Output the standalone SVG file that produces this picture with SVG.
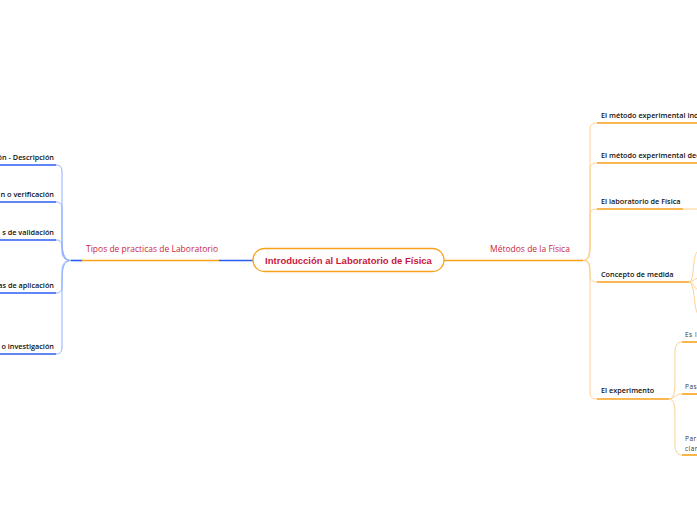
<svg xmlns="http://www.w3.org/2000/svg" width="697" height="520" viewBox="0 0 697 520">
<style>
.bg{fill:#ffffff}
.lb{fill:none;stroke:#8eb0ff;stroke-width:1}
.ub{fill:none;stroke:#2a5ef0;stroke-width:1.6}
.lo{fill:none;stroke:#fdd28e;stroke-width:1}
.uo{fill:none;stroke:#f9a11b;stroke-width:1.6}
.t{font-family:"Open Sans","Liberation Sans",sans-serif;font-size:7.3px;font-weight:600;fill:#111111}
.s{font-family:"Open Sans","Liberation Sans",sans-serif;font-size:6.5px;fill:#333333;letter-spacing:0.5px}
.m{font-family:"Open Sans","Liberation Sans",sans-serif;font-size:8.5px;fill:#cc1f3d}
.c{font-family:"Liberation Sans",Arial,sans-serif;font-size:9.5px;font-weight:bold;fill:#c8173a}
</style>
<rect class="bg" x="0" y="0" width="697" height="520"/>
<g id="connectors">
  <path class="ub" d="M253 260.5 H219"/>
  <path class="uo" d="M219 260.5 H82"/>
  <path class="ub" d="M82 260.5 H71"/>
  <path class="lb" d="M71 260.5 C64 260.5 62 252 62 240 V172 C62 167 60 165 56 165"/>
  <path class="lb" d="M71 260.5 C64 260.5 62 254 62 245 V209 C62 204 60 202 56 202"/>
  <path class="lb" d="M71 260.5 C64 260.5 62 256 62 252 V247 C62 242 60 240 56 240"/>
  <path class="lb" d="M71 260.5 C64 260.5 62 265 62 272 V286 C62 291 60 293 56 293"/>
  <path class="lb" d="M71 260.5 C64 260.5 62 268 62 280 V347 C62 352 60 354 56 354"/>
  <path class="ub" d="M56 165 H0"/>
  <path class="ub" d="M56 202 H0"/>
  <path class="ub" d="M56 240 H0"/>
  <path class="ub" d="M56 293 H0"/>
  <path class="ub" d="M56 354 H0"/>
  <path class="uo" d="M444 260.5 H583"/>
  <path class="lo" d="M583 260.5 C589 260.5 590 252 590 240 V130 C590 125 592 123 597 123"/>
  <path class="lo" d="M583 260.5 C589 260.5 590 254 590 245 V170 C590 165 592 163 597 163"/>
  <path class="lo" d="M583 260.5 C589 260.5 590 256 590 248 V216 C590 211 592 209 597 209"/>
  <path class="lo" d="M583 260.5 C589 260.5 590 264 590 270 V275 C590 280 592 282 597 282"/>
  <path class="lo" d="M583 260.5 C589 260.5 590 266 590 278 V392 C590 397 592 399 597 399"/>
  <path class="uo" d="M597 123 H697"/>
  <path class="uo" d="M597 163 H697"/>
  <path class="uo" d="M597 209 H683"/>
  <path class="lo" d="M683 209 H697"/>
  <path class="uo" d="M597 282 H689"/>
  <path class="lo" d="M689 282 C693 282 693 270 694 262 C695 256 696 252 698 251"/>
  <path class="lo" d="M689 282 C693 282 694 279 698 278"/>
  <path class="lo" d="M689 282 C693 282 694 288 698 290"/>
  <path class="lo" d="M689 282 C693 282 694 296 695 304 C696 310 697 313 698 314"/>
  <path class="uo" d="M597 399 H669"/>
  <path class="lo" d="M669 399 C674 399 675 392 675 380 V352 C675 346 677 342 682 342"/>
  <path class="lo" d="M669 399 C674 399 675 394 682 394"/>
  <path class="lo" d="M669 399 C674 399 675 406 675 415 V445 C675 451 677 455 682 455"/>
  <path class="uo" d="M682 342 H697"/>
  <path class="uo" d="M682 394 H697"/>
  <path class="uo" d="M682 455 H697"/>
</g>
<g id="central">
  <rect x="253" y="248.5" width="191" height="23" rx="11.5" fill="#ffffff" stroke="#f9a11b" stroke-width="1.3"/>
  <text class="c" x="348.5" y="263.5" text-anchor="middle">Introducción al Laboratorio de Física</text>
</g>
<g id="tipos">
  <text class="m" x="86" y="252">Tipos de practicas de Laboratorio</text>
</g>
<g id="metodos">
  <text class="m" x="490" y="252">Métodos de la Física</text>
</g>
<g id="l1"><text class="t" x="54" y="160" text-anchor="end">ón - Descripción</text></g>
<g id="l2"><text class="t" x="54" y="197" text-anchor="end">n o verificación</text></g>
<g id="l3"><text class="t" x="54" y="235" text-anchor="end">s de validación</text></g>
<g id="l4"><text class="t" x="54" y="288" text-anchor="end">as de aplicación</text></g>
<g id="l5"><text class="t" x="54" y="349" text-anchor="end">o investigación</text></g>
<g id="r1"><text class="t" x="601" y="118">El método experimental ind</text></g>
<g id="r2"><text class="t" x="601" y="158">El método experimental ded</text></g>
<g id="r3"><text class="t" x="601" y="204">El laboratorio de Física</text></g>
<g id="r4"><text class="t" x="601" y="277">Concepto de medida</text></g>
<g id="r5"><text class="t" x="601" y="393">El experimento</text></g>
<g id="e1"><text class="s" x="685" y="337">Es la</text></g>
<g id="e2"><text class="s" x="685" y="389">Pase</text></g>
<g id="e3"><text class="s" x="685" y="441">Para</text><text class="s" x="685" y="451">clar</text></g>
</svg>
